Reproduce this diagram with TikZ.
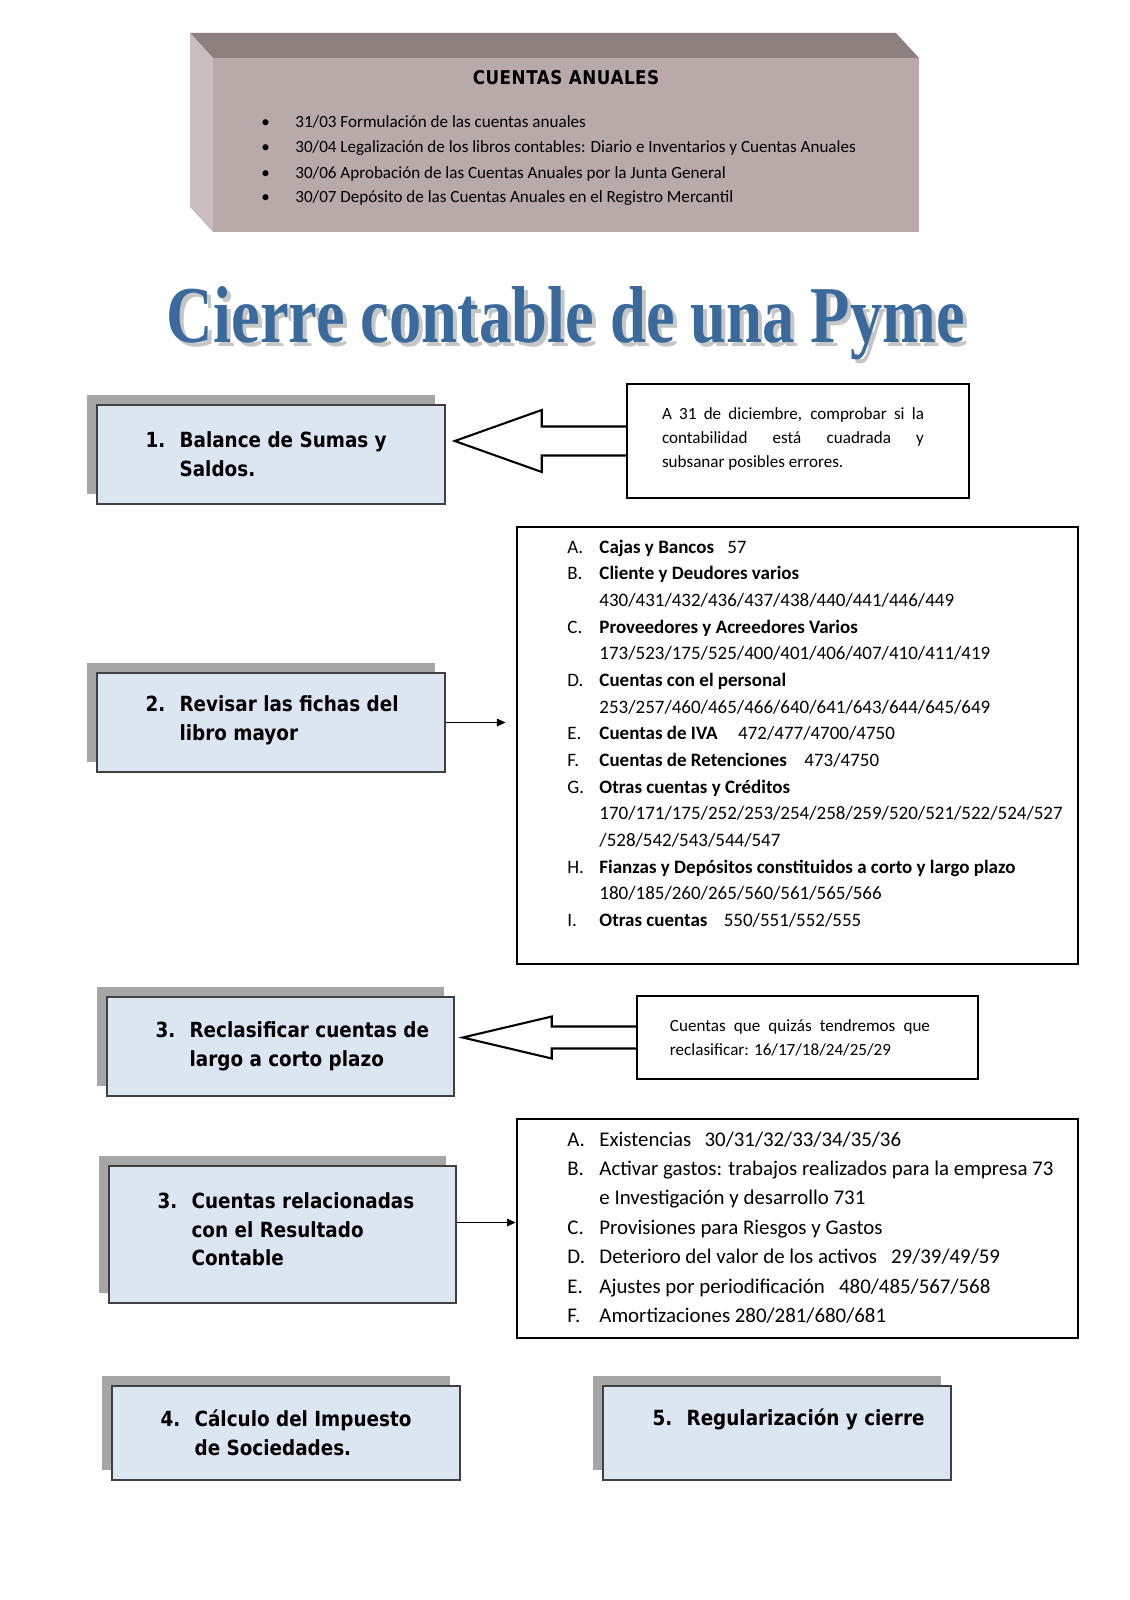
\documentclass[tikz,border=0pt]{standalone}
\usepackage{fontspec}
\usepackage{graphicx}
\setmainfont{Carlito}
\newfontfamily\boxfont{DejaVu Sans}[FakeStretch=0.88]
\newfontfamily\titlefont{Liberation Serif}
\usetikzlibrary{calc,positioning,shadows,arrows.meta}
\definecolor{boxblue}{RGB}{220,230,242}
\definecolor{titleblue}{RGB}{58,106,156}
\definecolor{cubefront}{RGB}{185,169,169}
\definecolor{cubetop}{RGB}{143,128,128}
\definecolor{cubeside}{RGB}{203,189,189}
\definecolor{framegray}{RGB}{64,64,64}
\newcommand{\pxu}{0.5268pt}
\newcommand{\stepitem}[2]{\makebox[17.9pt][l]{#1}\parbox[t]{140pt}{\raggedright #2}}

\begin{document}
\begin{tikzpicture}[x=0.5268pt,y=-0.5268pt,
  stepbox/.style={draw=framegray, line width=0.8pt, fill=boxblue, inner sep=0pt,
    minimum width=348*\pxu, minimum height=99*\pxu,
    drop shadow={shadow xshift=-5.3pt, shadow yshift=5.3pt, fill=black!35, opacity=1}},
  steptext/.style={anchor=west, inner sep=0pt, align=left,
    font={\boxfont\bfseries\fontsize{11pt}{15.1pt}\selectfont}},
  notebox/.style={draw, line width=1.5pt, inner sep=0pt},
  notetext/.style={inner sep=0pt, text width=138pt, align=justify,
    font={\fontsize{9pt}{12.6pt}\selectfont}},
  blockarrow/.style={draw, fill=white, line width=1.1pt, line join=miter},
  thinarrow/.style={line width=0.6pt, -{Triangle[length=4.5pt,width=4pt]}},
  ]
  \fill[white] (0,0) rectangle (1130,1600);
  \useasboundingbox (0,0) rectangle (1130,1600);

  % Cuentas anuales (3d box)
  \fill[cubetop] (190,33) -- (896,33) -- (919,58) -- (213,58) -- cycle;
  \fill[cubeside] (190,33) -- (213,58) -- (213,232) -- (190,207) -- cycle;
  \node[fill=cubefront, inner sep=0pt, minimum width=706*\pxu, minimum height=174*\pxu] (cuentas) at (566,145) {};
  \node[font={\boxfont\bfseries\fontsize{10pt}{12pt}\selectfont\addfontfeatures{LetterSpace=3}}] (cuentashead) at (566,78) {CUENTAS ANUALES};
  \node[anchor=base west, inner sep=0pt, font={\fontsize{9pt}{13.17pt}\selectfont}] (cuentaslist) at (261,128) {%
    \begin{tabular}[t]{@{}p{17.9pt}@{}l@{}}
      \textbullet & 31/03 Formulación de las cuentas anuales\\
      \textbullet & 30/04 Legalización de los libros contables: Diario e Inventarios y Cuentas Anuales\\
      \textbullet & 30/06 Aprobación de las Cuentas Anuales por la Junta General\\
      \textbullet & 30/07 Depósito de las Cuentas Anuales en el Registro Mercantil
    \end{tabular}};

  % Title
  \node[gray!45, anchor=base] (titleshadow) at (570,346) {\scalebox{1}[1.25]{\titlefont\bfseries\fontsize{34pt}{40pt}\selectfont Cierre contable de una Pyme}};
  \node[titleblue, anchor=base] (title) at (566,342) {\scalebox{1}[1.25]{\titlefont\bfseries\fontsize{34pt}{40pt}\selectfont Cierre contable de una Pyme}};

  % Steps
  \node[stepbox] (b1) at (271,454.5) {};
  \node[stepbox] (b2) at (271,722.5) {};
  \node[stepbox, minimum width=347*\pxu] (b3) at (280.5,1046.5) {};
  \node[stepbox, minimum width=347*\pxu, minimum height=137*\pxu] (b4) at (282.5,1234.5) {};
  \node[stepbox, minimum height=94*\pxu] (b5) at (286,1433) {};
  \node[stepbox, minimum height=94*\pxu] (b6) at (777,1433) {};

  \node[steptext] (t1) at ($(b1.west)+(49,0)$) {\stepitem{1.}{Balance de Sumas y\\Saldos.}};
  \node[steptext] (t2) at ($(b2.west)+(49,-2)$) {\stepitem{2.}{Revisar las fichas del\\libro mayor}};
  \node[steptext] (t3) at ($(b3.west)+(49,0)$) {\stepitem{3.}{Reclasificar cuentas de\\largo a corto plazo}};
  \node[steptext] (t4) at ($(b4.west)+(49,-5)$) {\stepitem{3.}{Cuentas relacionadas\\con el Resultado\\Contable}};
  \node[steptext] (t5) at ($(b5.west)+(49,0)$) {\stepitem{4.}{Cálculo del Impuesto\\de Sociedades.}};
  \node[steptext] (t6) at ($(b6.west)+(50,-14)$) {\stepitem{5.}{Regularización y cierre}};

  % Notes and block arrows
  \coordinate (n1w) at (627,441);
  \coordinate (a1tip) at ($(b1.east |- n1w)+(9,0)$);
  \draw[blockarrow] ($(n1w)+(0,-14.5)$) -- ($(a1tip)+(87,-14.5)$) -- ($(a1tip)+(87,-31)$) -- (a1tip)
    -- ($(a1tip)+(87,31)$) -- ($(a1tip)+(87,14.5)$) -- ($(n1w)+(0,14.5)$);
  \node[notebox, minimum width=342*\pxu, minimum height=114*\pxu] (n1) at (798,441) {};
  \node[notetext] (n1text) at ($(n1.center)+(-5,-2)$) {A 31 de diciembre, comprobar si la\linebreak contabilidad está cuadrada y\linebreak subsanar posibles errores.};

  \coordinate (n3w) at (637,1037.5);
  \coordinate (a3tip) at ($(b3.east |- n3w)+(8,0)$);
  \draw[blockarrow] ($(n3w)+(0,-11)$) -- ($(a3tip)+(89,-11)$) -- ($(a3tip)+(89,-21)$) -- (a3tip)
    -- ($(a3tip)+(89,21)$) -- ($(a3tip)+(89,11)$) -- ($(n3w)+(0,11)$);
  \node[notebox, minimum width=341*\pxu, minimum height=83*\pxu] (n3) at (807.5,1037.5) {};
  \node[notetext, text width=137pt] (n3text) at ($(n3.center)+(-7.5,0)$) {Cuentas que quizás tendremos que\linebreak reclasificar: 16/17/18/24/25/29};

  % Lists
  \node[notebox, minimum width=561*\pxu, minimum height=437*\pxu] (l1) at (797.5,745.5) {};
  \node[anchor=base west, inner sep=0pt, font={\fontsize{10pt}{14.06pt}\selectfont}] (l1text) at (567,553) {%
    \begin{tabular}[t]{@{}p{16.9pt}@{}l@{}}
      A. & \textbf{Cajas y Bancos}\hspace{7pt}57\\
      B. & \textbf{Cliente y Deudores varios}\\
         & 430/431/432/436/437/438/440/441/446/449\\
      C. & \textbf{Proveedores y Acreedores Varios}\\
         & 173/523/175/525/400/401/406/407/410/411/419\\
      D. & \textbf{Cuentas con el personal}\\
         & 253/257/460/465/466/640/641/643/644/645/649\\
      E. & \textbf{Cuentas de IVA}\hspace{10.8pt}472/477/4700/4750\\
      F. & \textbf{Cuentas de Retenciones}\hspace{9.2pt}473/4750\\
      G. & \textbf{Otras cuentas y Créditos}\\
         & 170/171/175/252/253/254/258/259/520/521/522/524/527\\
         & /528/542/543/544/547\\
      H. & \textbf{Fianzas y Depósitos constituidos a corto y largo plazo}\\
         & 180/185/260/265/560/561/565/566\\
      I. & \textbf{Otras cuentas}\hspace{8.6pt}550/551/552/555
    \end{tabular}};

  \node[notebox, minimum width=561*\pxu, minimum height=219*\pxu] (l2) at (797.5,1228.5) {};
  \node[anchor=base west, inner sep=0pt, font={\fontsize{11pt}{15.5pt}\selectfont}] (l2text) at (567,1146) {%
    \begin{tabular}[t]{@{}p{16.9pt}@{}l@{}}
      A. & Existencias\hspace{7pt}30/31/32/33/34/35/36\\
      B. & Activar gastos: trabajos realizados para la empresa 73\\
         & e Investigación y desarrollo 731\\
      C. & Provisiones para Riesgos y Gastos\\
      D. & Deterioro del valor de los activos\hspace{7.5pt}29/39/49/59\\
      E. & Ajustes por periodificación\hspace{7.5pt}480/485/567/568\\
      F. & Amortizaciones 280/281/680/681
    \end{tabular}};

  % Connectors
  \draw[thinarrow, shorten >=5.3pt] (b2.east) -- (l1.west |- b2.east);
  \coordinate (a4s) at ($(b4.east)+(0,-12)$);
  \draw[thinarrow] (a4s) -- (l2.west |- a4s);
\end{tikzpicture}
\end{document}
